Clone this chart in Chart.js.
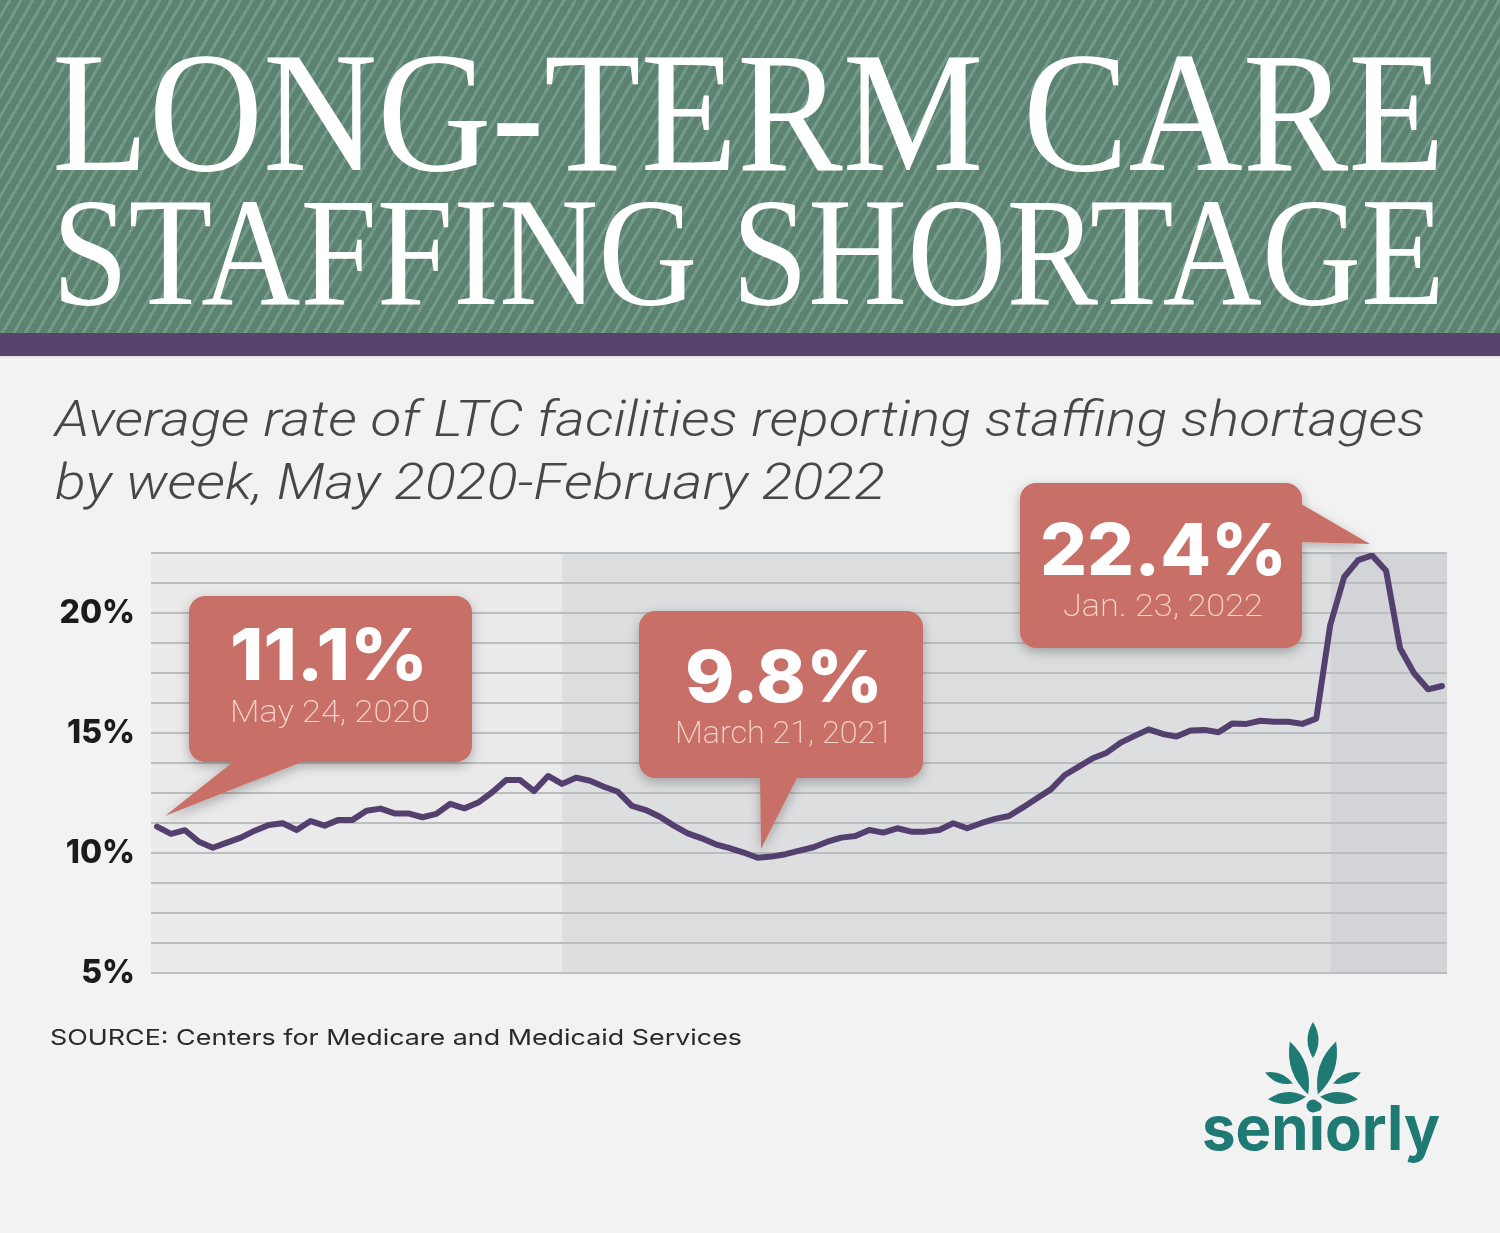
<!DOCTYPE html>
<html lang="en">
<head>
<meta charset="utf-8">
<title>Long-Term Care Staffing Shortage</title>
<script src="https://cdn.jsdelivr.net/npm/chart.js@4.4.1/dist/chart.umd.min.js"></script>
<style>
  html, body { margin:0; padding:0; }
  body { width:1500px; height:1233px; position:relative; overflow:hidden; background:#f2f2f2; }
  #header { position:absolute; left:0; top:0; width:1500px; height:333px; background-color:#5c8371;
    background-image: repeating-linear-gradient(120deg, rgba(0,0,0,0) 0px, rgba(0,0,0,0) 7px, rgba(150,192,172,0.38) 7px, rgba(150,192,172,0.38) 10px); }
  #bar { position:absolute; left:0; top:333px; width:1500px; height:23px; background:#56446e; }
  #barline { position:absolute; left:0; top:356px; width:1500px; height:2px; background:#e6e2ec; }
  #chartWrap { position:absolute; left:0; top:0; width:1500px; height:1233px; }
  #overlay { position:absolute; left:0; top:0; width:1500px; height:1233px; pointer-events:none; }
</style>
</head>
<body>
<div id="header"></div><div id="bar"></div><div id="barline"></div>
<div id="chartWrap"><canvas id="chart" width="1500" height="1233"></canvas></div>

<svg id="overlay" xmlns="http://www.w3.org/2000/svg" width="1500" height="1233" viewBox="0 0 1500 1233">
  <defs>
    <filter id="shadow" x="-20%" y="-20%" width="140%" height="150%">
      <feDropShadow dx="0" dy="4" stdDeviation="6" flood-color="#000" flood-opacity="0.28"/>
    </filter>
  </defs>

  <!-- Title -->
  <g font-family="'Liberation Serif', 'DejaVu Serif', serif" fill="#ffffff">
    <text x="52" y="170" font-size="172" textLength="1393" lengthAdjust="spacingAndGlyphs">LONG-TERM CARE</text>
    <text x="52" y="304" font-size="155" textLength="1393" lengthAdjust="spacingAndGlyphs">STAFFING SHORTAGE</text>
  </g>

  <!-- Subtitle -->
  <g font-family="Roboto, 'Open Sans', sans-serif" font-style="italic" font-weight="300" fill="#474747" font-size="49">
    <text x="55" y="436" textLength="1370" lengthAdjust="spacingAndGlyphs">Average rate of LTC facilities reporting staffing shortages</text>
    <text x="55" y="499" textLength="830" lengthAdjust="spacingAndGlyphs">by week, May 2020-February 2022</text>
  </g>

  <!-- Callouts -->
  <g fill="#c87067" filter="url(#shadow)">
    <rect x="189" y="596" width="283" height="166" rx="16" ry="16"/>
    <polygon points="238,758 312,758 165,816"/>
    <rect x="639" y="611" width="284" height="167" rx="16" ry="16"/>
    <polygon points="760,774 799,774 761,849"/>
    <rect x="1020" y="483" width="282" height="165" rx="16" ry="16"/>
    <polygon points="1296,501 1296,542 1370,544"/>
  </g>
  <g font-family="Inter, 'Open Sans', sans-serif" font-weight="800" fill="#ffffff" font-size="72">
    <text x="230" y="680" textLength="198" lengthAdjust="spacingAndGlyphs">11.1%</text>
    <text x="685" y="702" textLength="198" lengthAdjust="spacingAndGlyphs">9.8%</text>
    <text x="1040" y="575" textLength="247" lengthAdjust="spacingAndGlyphs">22.4%</text>
  </g>
  <g font-family="Roboto, 'Open Sans', sans-serif" font-weight="200" fill="#f7d6ce" font-size="31">
    <text x="230" y="722" textLength="200" lengthAdjust="spacingAndGlyphs">May 24, 2020</text>
    <text x="675" y="743" textLength="218" lengthAdjust="spacingAndGlyphs">March 21, 2021</text>
    <text x="1063" y="616" textLength="200" lengthAdjust="spacingAndGlyphs">Jan. 23, 2022</text>
  </g>

  <!-- Source -->
  <text x="50" y="1045" font-family="Inter, 'Open Sans', sans-serif" font-size="22" fill="#2a2a2a" textLength="692" lengthAdjust="spacingAndGlyphs">SOURCE: Centers for Medicare and Medicaid Services</text>

  <!-- Logo -->
  <g fill="#1e7a73">
    <path transform="translate(1313,1040) rotate(90)" d="M-18,0 Q0,-11 18,0 Q0,11 -18,0 Z"/>
    <path transform="translate(1299,1068) rotate(71)" d="M-28,0 Q0,-15 28,0 Q0,15 -28,0 Z"/>
    <path transform="translate(1327,1068) rotate(-71)" d="M-28,0 Q0,-15 28,0 Q0,15 -28,0 Z"/>
    <path transform="translate(1279,1078) rotate(22)" d="M-15,0 Q0,-9 15,0 Q0,9 -15,0 Z"/>
    <path transform="translate(1347,1078) rotate(-22)" d="M-15,0 Q0,-9 15,0 Q0,9 -15,0 Z"/>
    <path transform="translate(1287,1098) rotate(-4)" d="M-19,0 Q0,-12 19,0 Q0,12 -19,0 Z"/>
    <path transform="translate(1339,1098) rotate(4)" d="M-19,0 Q0,-12 19,0 Q0,12 -19,0 Z"/>
    <circle cx="1313" cy="1106" r="6.5"/>
    <text x="1202" y="1150" font-family="Inter, 'Open Sans', sans-serif" font-weight="700" font-size="62" textLength="238" lengthAdjust="spacingAndGlyphs">seniorly</text>
  </g>
</svg>

<script>
// ---------------- DATA ----------------
const weeks = [
  '2020-05-24','2020-05-31','2020-06-07','2020-06-14','2020-06-21','2020-06-28','2020-07-05','2020-07-12',
  '2020-07-19','2020-07-26','2020-08-02','2020-08-09','2020-08-16','2020-08-23','2020-08-30','2020-09-06',
  '2020-09-13','2020-09-20','2020-09-27','2020-10-04','2020-10-11','2020-10-18','2020-10-25','2020-11-01',
  '2020-11-08','2020-11-15','2020-11-22','2020-11-29','2020-12-06','2020-12-13','2020-12-20','2020-12-27',
  '2021-01-03','2021-01-10','2021-01-17','2021-01-24','2021-01-31','2021-02-07','2021-02-14','2021-02-21',
  '2021-02-28','2021-03-07','2021-03-14','2021-03-21','2021-03-28','2021-04-04','2021-04-11','2021-04-18',
  '2021-04-25','2021-05-02','2021-05-09','2021-05-16','2021-05-23','2021-05-30','2021-06-06','2021-06-13',
  '2021-06-20','2021-06-27','2021-07-04','2021-07-11','2021-07-18','2021-07-25','2021-08-01','2021-08-08',
  '2021-08-15','2021-08-22','2021-08-29','2021-09-05','2021-09-12','2021-09-19','2021-09-26','2021-10-03',
  '2021-10-10','2021-10-17','2021-10-24','2021-10-31','2021-11-07','2021-11-14','2021-11-21','2021-11-28',
  '2021-12-05','2021-12-12','2021-12-19','2021-12-26','2022-01-02','2022-01-09','2022-01-16','2022-01-23',
  '2022-01-30','2022-02-06','2022-02-13','2022-02-20','2022-02-27'
];
const rates = [
  11.1, 10.8, 10.95, 10.47, 10.22, 10.43, 10.64, 10.93, 11.17, 11.24, 10.96, 11.33, 11.14, 11.38, 11.38, 11.76,
  11.85, 11.65, 11.65, 11.49, 11.63, 12.05, 11.86, 12.1, 12.53, 13.04, 13.04, 12.58, 13.21, 12.88, 13.14, 13.01,
  12.76, 12.55, 11.96, 11.79, 11.51, 11.14, 10.82, 10.61, 10.36, 10.2, 10.02, 9.8, 9.85, 9.95, 10.1, 10.24,
  10.47, 10.64, 10.71, 10.96, 10.85, 11.03, 10.89, 10.89, 10.96, 11.24, 11.03, 11.24, 11.42, 11.54, 11.9, 12.28,
  12.65, 13.25, 13.6, 13.95, 14.18, 14.6, 14.88, 15.15, 14.96, 14.85, 15.1, 15.13, 15.03, 15.4, 15.38, 15.51,
  15.47, 15.47, 15.38, 15.6, 19.5, 21.5, 22.2, 22.4, 21.76, 18.53, 17.49, 16.82, 16.96
];
const gridLevels = [5, 6.25, 7.5, 8.75, 10, 11.25, 12.5, 13.75, 15, 16.25, 17.5, 18.75, 20, 21.25, 22.5];
const tickLabels = { 5: '5%', 10: '10%', 15: '15%', 20: '20%' };
const bandStarts = ['2020-12-13', '2022-01-02'];

// ---------------- CHART ----------------
const bandsPlugin = {
  id: 'bands',
  beforeDraw(chart, args, opts) {
    const { ctx, chartArea, scales } = chart;
    const x = scales.x;
    const edges = [chartArea.left]
      .concat(bandStarts.map(d => x.getPixelForValue(weeks.indexOf(d))))
      .concat([chartArea.right]);
    ctx.save();
    for (let k = 0; k < edges.length - 1; k++) {
      ctx.fillStyle = opts.colors[k];
      ctx.fillRect(edges[k], chartArea.top, edges[k + 1] - edges[k], chartArea.bottom - chartArea.top);
    }
    ctx.restore();
  }
};

const ctx = document.getElementById('chart').getContext('2d');
new Chart(ctx, {
  type: 'line',
  data: {
    labels: weeks,
    datasets: [{
      data: rates.map((v, i) => ({ x: i, y: v })),
      borderColor: '#54406e',
      borderWidth: 6,
      pointRadius: 0,
      tension: 0,
      borderJoinStyle: 'round',
      borderCapStyle: 'round',
      fill: false
    }]
  },
  options: {
    responsive: false,
    animation: false,
    events: [],
    layout: { padding: { left: 0, right: 53, top: 553, bottom: 260 } },
    plugins: {
      legend: { display: false },
      tooltip: { enabled: false },
      bands: { colors: ['#eaeaeb', '#dddee0', '#d3d4d7'] }
    },
    scales: {
      x: {
        type: 'linear',
        display: false,
        min: -0.43,
        max: weeks.length - 1 + 0.36
      },
      y: {
        min: gridLevels[0],
        max: gridLevels[gridLevels.length - 1],
        afterBuildTicks: (axis) => { axis.ticks = gridLevels.map(v => ({ value: v })); },
        afterFit: (axis) => { axis.width = 151; },
        border: { display: false },
        grid: { color: '#bcbdc0', lineWidth: 2, drawTicks: false },
        ticks: {
          autoSkip: false,
          padding: 16,
          color: '#1b1b1b',
          font: { family: 'Inter, "Open Sans", sans-serif', weight: '800', size: 32 },
          callback: (v) => tickLabels[v] || ''
        }
      }
    }
  },
  plugins: [bandsPlugin]
});
</script>
</body>
</html>
